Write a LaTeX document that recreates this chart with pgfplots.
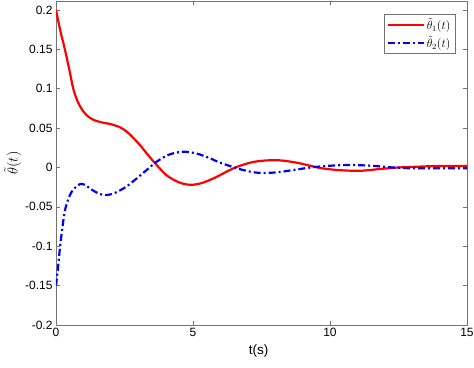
\documentclass[border=0pt]{standalone}
\usepackage{fontspec}
\setmainfont{Liberation Sans}
\usepackage{pgfplots}
\pgfplotsset{compat=1.18}
\definecolor{axgray}{gray}{0.45}
\begin{document}
\begin{tikzpicture}
\begin{axis}[
  name=ax,
  at={(0pt,0pt)}, anchor=south west,
  width=411pt, height=324pt, scale only axis,
  xmin=0, xmax=15, ymin=-0.2, ymax=0.2114,
  xtick={0,5,10,15},
  ytick={-0.2,-0.15,-0.1,-0.05,0,0.05,0.1,0.15,0.2},
  yticklabels={-0.2,-0.15,-0.1,-0.05,0,0.05,0.1,0.15,0.2},
  xticklabels={0,5,10,15},
  tick align=inside, major tick length=4pt,
  axis line style={axgray, line width=0.7pt},
  tick style={axgray, line width=0.7pt},
  ticklabel style={font=\fontsize{12}{14}\selectfont, text=black},
  xlabel={t(s)}, ylabel={$\tilde{\theta}(t)$},
  label style={font=\fontsize{13.5}{15}\selectfont},
  xlabel style={yshift=-1pt, xshift=-3pt},
  ylabel style={yshift=-3pt},
  legend style={at={(0.971,0.96)}, anchor=north east, draw=axgray, fill=white,
    font=\fontsize{12}{14}\selectfont, row sep=1pt, inner sep=2.5pt},
  legend cell align=left,
  legend image code/.code={\draw[#1] (0pt,0pt) -- (36pt,0pt);},
]
\addplot[red, line width=2.2pt, smooth, tension=0.5] coordinates {
(0,0.200) (0.15,0.175) (0.33,0.149) (0.5,0.122) (0.63,0.100) (0.8,0.083)
(1.0,0.071) (1.2,0.064) (1.4,0.060) (1.7,0.057) (2.0,0.055) (2.34,0.051)
(2.6,0.045) (2.81,0.038) (3.05,0.029) (3.31,0.018) (3.6,0.006) (4.04,-0.010)
(4.5,-0.019) (4.9,-0.022) (5.3,-0.020) (5.8,-0.013) (6.3,-0.004) (6.7,0.002)
(7.2,0.007) (7.7,0.009) (8.2,0.009) (8.8,0.006) (9.3,0.002) (9.7,-0.001)
(10.2,-0.003) (10.7,-0.004) (11.2,-0.004) (11.8,-0.002) (12.5,0.000)
(13.2,0.001) (14,0.002) (15,0.002)
};
\addlegendentry{$\tilde{\theta}_1(t)$}
\addplot[blue, line width=2.2pt, smooth, tension=0.5,
  dash pattern=on 7pt off 3pt on 2pt off 3pt] coordinates {
(0,-0.150) (0.08,-0.125) (0.15,-0.100) (0.25,-0.072) (0.33,-0.054) (0.45,-0.040)
(0.57,-0.031) (0.72,-0.025) (0.88,-0.021) (1.05,-0.022) (1.3,-0.028) (1.55,-0.033)
(1.8,-0.035) (2.1,-0.033) (2.58,-0.024) (3.18,-0.007) (3.66,0.007) (4.1,0.016)
(4.6,0.020) (5.1,0.018) (5.6,0.012) (6.0,0.006) (6.7,-0.002) (7.2,-0.006)
(7.6,-0.007) (8.1,-0.006) (8.7,-0.003) (9.3,0.000) (9.9,0.002) (10.5,0.003)
(11.0,0.003) (11.6,0.002) (12.3,0.000) (13,-0.001) (14,-0.001) (15,-0.001)
};
\addlegendentry{$\tilde{\theta}_2(t)$}
\end{axis}
\pgfresetboundingbox
\path (-56pt,-42pt) rectangle (418pt,325pt);
\end{tikzpicture}
\end{document}
